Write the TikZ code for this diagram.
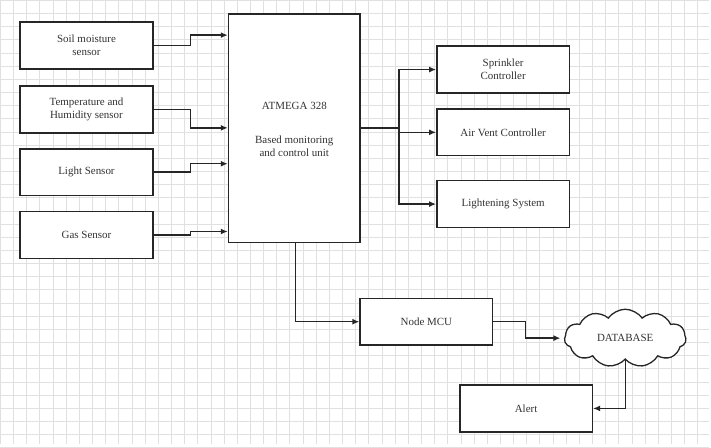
\documentclass[tikz,border=0pt]{standalone}
\usepackage{fontspec}
\setmainfont{Liberation Serif}
\usetikzlibrary{shapes.symbols,arrows.meta}
\begin{document}
\begin{tikzpicture}[x=1pt,y=-1pt,
  box/.style={draw=black!85,line width=1.5pt,fill=white,inner sep=0pt,align=center,font=\fontsize{11}{13}\selectfont,text=black!80},
  arr/.style={draw=black!85,line width=1.4pt,-{Latex[length=7pt,width=6pt]}}]
\fill[white] (0,0) rectangle (711,445);
\foreach \i in {0,...,54} {\draw[black!12,line width=0.5pt] (\i*13.2,0) -- (\i*13.2,445);}
\foreach \i in {0,...,34} {\draw[black!12,line width=0.5pt] (0,\i*13.2) -- (711,\i*13.2);}
\useasboundingbox (0,0) rectangle (711,445);
\newcommand{\bx}[6]{\node[box,minimum width=#4-#2,minimum height=#5-#3] (#1) at ({(#2+#4)/2},{(#3+#5)/2}) {#6};}
\bx{soil}{20}{22}{153}{69}{Soil moisture\\sensor}
\bx{temp}{20}{86}{153}{133}{Temperature and\\Humidity sensor}
\bx{light}{20}{149}{153}{196}{Light Sensor}
\bx{gas}{20}{212}{153}{259}{Gas Sensor}
\bx{atm}{229}{14}{361}{243}{}
\node[font=\fontsize{11}{13}\selectfont,text=black!80] (t1) at (295,106) {ATMEGA 328};
\node[font=\fontsize{11}{13}\selectfont,text=black!80,align=center] (t2) at (295,146) {Based monitoring\\and control unit};
\bx{spr}{438}{46}{571}{93}{Sprinkler\\Controller}
\bx{air}{438}{109}{571}{156}{Air Vent Controller}
\bx{lig}{438}{181}{571}{228}{Lightening System}
\bx{mcu}{361}{299}{494}{346}{Node MCU}
\bx{alert}{461}{386}{594}{433}{Alert}
\node[draw=black!85,line width=1.3pt,fill=white,cloud,cloud puffs=11,cloud puff arc=110,aspect=2.4,minimum width=122,minimum height=58,inner sep=0pt,font=\fontsize{11}{13}\selectfont,text=black!80] (db) at (627,339) {DATABASE};
\coordinate (dbin) at (562,339);
\draw[arr] (soil.east) -| (191,35) -- (atm.west|-0,35);
\draw[arr] (temp.east) -| (191,128) -- (atm.west|-0,128);
\draw[arr] (light.east) -| (191,164) -- (atm.west|-0,164);
\draw[arr] (gas.east) -| (191,232) -- (atm.west|-0,232);
\draw[arr] (atm.east|-0,128) -- (400,128) |- (spr.west);
\draw[arr] (400,128) |- (air.west);
\draw[arr] (400,128) |- (lig.west);
\draw[arr] (atm.south-|296,0) |- (mcu.west);
\draw[arr] (mcu.east) -| (527,339) -- (dbin);
\draw[arr] (db.south-|627,0) |- (alert.east);
\end{tikzpicture}
\end{document}
